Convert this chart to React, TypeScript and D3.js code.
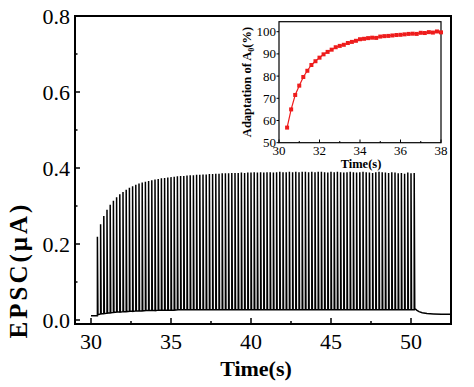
import React, { useEffect, useRef } from 'react';
import * as d3 from 'd3';

// main trace: one spike every 0.2 s from 30.4 s to 50.2 s
const spikePeaks = [
  0.219, 0.252, 0.274, 0.290, 0.303, 0.314, 0.323, 0.331, 0.337, 0.343,
  0.348, 0.352, 0.356, 0.359, 0.362, 0.364, 0.366, 0.368, 0.370, 0.371,
  0.373, 0.374, 0.375, 0.376, 0.377, 0.378, 0.379, 0.379, 0.380, 0.381,
  0.381, 0.382, 0.382, 0.383, 0.383, 0.384, 0.384, 0.385, 0.385, 0.386,
  0.386, 0.386, 0.387, 0.387, 0.387, 0.388, 0.387, 0.388, 0.388, 0.389,
  0.388, 0.389, 0.388, 0.389, 0.389, 0.388, 0.389, 0.390, 0.389, 0.389,
  0.390, 0.389, 0.390, 0.389, 0.390, 0.390, 0.389, 0.390, 0.389, 0.390,
  0.390, 0.389, 0.388, 0.390, 0.389, 0.390, 0.389, 0.388, 0.389, 0.390,
  0.389, 0.388, 0.389, 0.390, 0.389, 0.388, 0.387, 0.389, 0.390, 0.389,
  0.388, 0.387, 0.389, 0.388, 0.386, 0.387, 0.385, 0.388, 0.386, 0.387,
];
const spikeTroughs = [
  0.014, 0.016, 0.017, 0.018, 0.019, 0.020, 0.021, 0.021, 0.022, 0.022,
  0.023, 0.023, 0.024, 0.024, 0.024, 0.025, 0.025, 0.025, 0.025, 0.026,
  0.026, 0.026, 0.026, 0.026, 0.026, 0.027, 0.027, 0.027, 0.027, 0.027,
  0.027, 0.027, 0.027, 0.027, 0.027, 0.027, 0.027, 0.027, 0.027, 0.027,
  0.027, 0.027, 0.027, 0.027, 0.027, 0.027, 0.027, 0.027, 0.027, 0.027,
  0.027, 0.027, 0.027, 0.027, 0.027, 0.027, 0.027, 0.027, 0.027, 0.027,
  0.027, 0.027, 0.027, 0.027, 0.027, 0.027, 0.027, 0.027, 0.027, 0.027,
  0.027, 0.027, 0.027, 0.027, 0.027, 0.027, 0.027, 0.027, 0.027, 0.027,
  0.027, 0.027, 0.027, 0.027, 0.027, 0.027, 0.027, 0.027, 0.027, 0.027,
  0.027, 0.027, 0.027, 0.027, 0.027, 0.027, 0.027, 0.027, 0.027, 0.027,
];
const spikeStart = 30.4;
const spikePeriod = 0.2;
const preTimes = [30.0, 30.4];
const preValues = [0.011, 0.011];
const tailTimes = [50.25, 50.35, 50.5, 50.7, 51.0, 51.4, 51.9, 52.5];
const tailValues = [0.030, 0.026, 0.022, 0.019, 0.017, 0.016, 0.015, 0.015];

// inset: adaptation of A0 (%)
const insetTimes = [
  30.4, 30.6, 30.8, 31.0, 31.2, 31.4, 31.6, 31.8, 32.0, 32.2,
  32.4, 32.6, 32.8, 33.0, 33.2, 33.4, 33.6, 33.8, 34.0, 34.2,
  34.4, 34.6, 34.8, 35.0, 35.2, 35.4, 35.6, 35.8, 36.0, 36.2,
  36.4, 36.6, 36.8, 37.0, 37.2, 37.4, 37.6, 37.8, 38.0,
];
const insetValues = [
  56.8, 65.0, 71.5, 75.7, 79.6, 82.4, 85.0, 86.7, 88.3, 89.8,
  90.9, 91.9, 93.0, 93.6, 94.1, 94.9, 95.4, 95.9, 96.6, 96.8,
  97.1, 97.3, 97.2, 97.8, 98.0, 98.1, 98.3, 98.5, 98.6, 98.8,
  99.0, 99.1, 99.0, 99.5, 99.4, 99.8, 99.6, 100.1, 99.7,
];

const xTicks = [30, 35, 40, 45, 50];
const yTicks = [0.0, 0.2, 0.4, 0.6, 0.8];
const insetXTicks = [30, 32, 34, 36, 38];
const insetYTicks = [50, 60, 70, 80, 90, 100];

const App = () => {
  const svgRef = useRef<SVGSVGElement>(null);

  useEffect(() => {
    const svg = d3.select(svgRef.current);
    svg.selectAll('*').remove();

    const x = d3.scaleLinear().domain([29, 52.5]).range([75, 451]);
    const y = d3.scaleLinear().domain([-0.0105, 0.8]).range([324, 16]);

    // build trace points
    const pts: [number, number][] = [];
    preTimes.forEach((t, i) => pts.push([t, preValues[i]]));
    spikePeaks.forEach((p, i) => {
      const t = spikeStart + i * spikePeriod;
      pts.push([t, spikeTroughs[i]]);
      pts.push([t, p]);
      pts.push([t + 0.035, spikeTroughs[i]]);
    });
    tailTimes.forEach((t, i) => pts.push([t, tailValues[i]]));

    const line = d3.line<[number, number]>().x(d => x(d[0])).y(d => y(d[1]));
    svg.append('path')
      .attr('d', line(pts))
      .attr('fill', 'none')
      .attr('stroke', '#000')
      .attr('stroke-width', 1.5);

    // frame
    svg.append('rect')
      .attr('x', 75).attr('y', 16).attr('width', 376).attr('height', 308)
      .attr('fill', 'none').attr('stroke', '#000').attr('stroke-width', 2);

    const g = svg.append('g');
    xTicks.forEach(t => {
      g.append('line').attr('x1', x(t)).attr('x2', x(t)).attr('y1', 324).attr('y2', 318)
        .attr('stroke', '#000').attr('stroke-width', 1.5);
      g.append('text').attr('x', x(t)).attr('y', 349).attr('text-anchor', 'middle')
        .attr('font-size', 22).text(t);
    });
    [32.5, 37.5, 42.5, 47.5].forEach(t => {
      g.append('line').attr('x1', x(t)).attr('x2', x(t)).attr('y1', 324).attr('y2', 321)
        .attr('stroke', '#000').attr('stroke-width', 1.5);
    });
    yTicks.forEach(v => {
      g.append('line').attr('x1', 75).attr('x2', 80).attr('y1', y(v)).attr('y2', y(v))
        .attr('stroke', '#000').attr('stroke-width', 1.5);
      g.append('text').attr('x', 70).attr('y', y(v)).attr('dy', '0.35em').attr('text-anchor', 'end')
        .attr('font-size', 22).text(v.toFixed(1));
    });
    [0.1, 0.3, 0.5, 0.7].forEach(v => {
      g.append('line').attr('x1', 75).attr('x2', 77.5).attr('y1', y(v)).attr('y2', y(v))
        .attr('stroke', '#000').attr('stroke-width', 1.5);
    });

    g.append('text').attr('x', 256).attr('y', 376).attr('text-anchor', 'middle')
      .attr('font-size', 22).attr('font-weight', 'bold').text('Time(s)');
    g.append('text').attr('transform', 'translate(27,270) rotate(-90)').attr('text-anchor', 'middle')
      .attr('font-size', 25).attr('font-weight', 'bold')
      .attr('letter-spacing', 3).text('EPSC(μA)');

    // inset
    const ix = d3.scaleLinear().domain([30, 38]).range([279, 441]);
    const iy = d3.scaleLinear().domain([50, 104.5]).range([142.7, 21.7]);
    const ins = svg.append('g');
    ins.append('rect').attr('x', 279).attr('y', 21.7).attr('width', 162).attr('height', 121)
      .attr('fill', '#fff').attr('stroke', '#000').attr('stroke-width', 1.2);

    const ipts: [number, number][] = insetTimes.map((t, i) => [t, insetValues[i]]);
    const iline = d3.line<[number, number]>().x(d => ix(d[0])).y(d => iy(d[1]));
    ins.append('path').attr('d', iline(ipts)).attr('fill', 'none')
      .attr('stroke', '#ee1c1c').attr('stroke-width', 1.2);
    ins.selectAll('rect.m').data(ipts).enter().append('rect')
      .attr('class', 'm')
      .attr('x', d => ix(d[0]) - 2).attr('y', d => iy(d[1]) - 2)
      .attr('width', 4).attr('height', 4).attr('fill', '#ee1c1c');

    insetXTicks.forEach(t => {
      ins.append('line').attr('x1', ix(t)).attr('x2', ix(t)).attr('y1', 142.7).attr('y2', 139.5)
        .attr('stroke', '#000').attr('stroke-width', 1);
      ins.append('text').attr('x', ix(t)).attr('y', 155).attr('text-anchor', 'middle')
        .attr('font-size', 13).text(t);
    });
    [31, 33, 35, 37].forEach(t => {
      ins.append('line').attr('x1', ix(t)).attr('x2', ix(t)).attr('y1', 142.7).attr('y2', 141)
        .attr('stroke', '#000').attr('stroke-width', 1);
    });
    insetYTicks.forEach(v => {
      ins.append('line').attr('x1', 276.5).attr('x2', 279).attr('y1', iy(v)).attr('y2', iy(v))
        .attr('stroke', '#000').attr('stroke-width', 1);
      ins.append('text').attr('x', 276).attr('y', iy(v)).attr('dy', '0.35em').attr('text-anchor', 'end')
        .attr('font-size', 13).text(v);
    });

    ins.append('text').attr('x', 361).attr('y', 168).attr('text-anchor', 'middle')
      .attr('font-size', 12.5).attr('font-weight', 'bold').text('Time(s)');
    const yl = ins.append('text').attr('transform', 'translate(251,82) rotate(-90)').attr('text-anchor', 'middle')
      .attr('font-size', 12.5).attr('font-weight', 'bold');
    yl.append('tspan').text('Adaptation of A');
    yl.append('tspan').attr('font-size', 8).attr('dy', 3).text('0');
    yl.append('tspan').attr('dy', -3).text('(%)');
  }, []);

  return (
    <svg ref={svgRef} width="474" height="387"
      style={{ position: 'absolute', left: 0, top: 0, background: '#fff', fontFamily: 'Liberation Serif' }}>
    </svg>
  );
};

export default App;
